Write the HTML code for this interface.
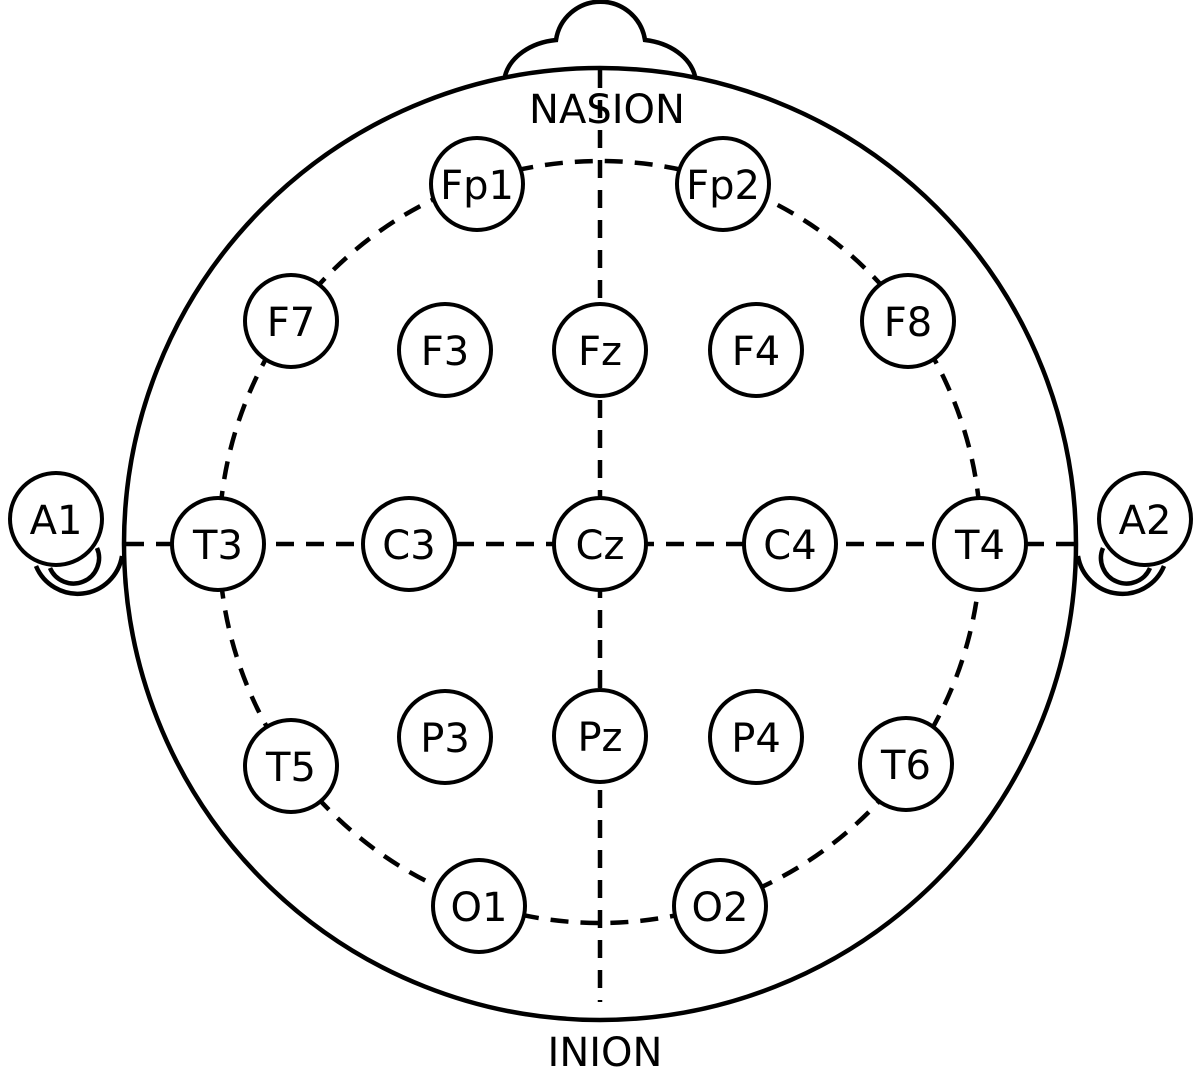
<!DOCTYPE html>
<html><head><style>html,body{margin:0;padding:0;background:#fff}</style></head><body>
<svg width="1200" height="1074" viewBox="0 0 1200 1074" xmlns="http://www.w3.org/2000/svg" font-family="DejaVu Sans, Liberation Sans, sans-serif">
<g fill="none" stroke="#000" stroke-width="4.5">
<path d="M505 76 A60 45 0 0 1 556 40 A45 45 0 0 1 645 40 A60 45 0 0 1 695 76"/>
<path d="M36 566 A45 45 0 0 0 122 556"/>
<path d="M50 568 A25 25 0 0 0 97 548"/>
<path d="M1164 566 A45 45 0 0 1 1078 556"/>
<path d="M1150 568 A25 25 0 0 1 1103 548"/>
<circle cx="600" cy="544" r="476" fill="#fff"/>
<g stroke-dasharray="18 12">
<circle cx="600" cy="542" r="381"/>
<line x1="600" y1="70" x2="600" y2="1002"/>
<line x1="126" y1="544" x2="1074" y2="544"/>
</g>
</g>
<g fill="#fff" stroke="#000" stroke-width="4">
<circle cx="477" cy="184" r="46"/><circle cx="723" cy="184" r="46"/>
<circle cx="291" cy="321" r="46"/><circle cx="445" cy="350" r="46"/><circle cx="600" cy="350" r="46"/><circle cx="756" cy="350" r="46"/><circle cx="908" cy="321" r="46"/>
<circle cx="218" cy="544" r="46"/><circle cx="409" cy="544" r="46"/><circle cx="600" cy="544" r="46"/><circle cx="790" cy="544" r="46"/><circle cx="980" cy="544" r="46"/>
<circle cx="291" cy="766" r="46"/><circle cx="445" cy="737" r="46"/><circle cx="600" cy="736" r="46"/><circle cx="756" cy="737" r="46"/><circle cx="906" cy="764" r="46"/>
<circle cx="479" cy="906" r="46"/><circle cx="720" cy="906" r="46"/>
<circle cx="56" cy="519" r="46"/><circle cx="1145" cy="519" r="46"/>
</g>
<g font-size="40" text-anchor="middle" fill="#000">
<text x="477" y="199">Fp1</text><text x="723" y="199">Fp2</text>
<text x="291" y="336">F7</text><text x="445" y="365">F3</text><text x="600" y="365">Fz</text><text x="756" y="365">F4</text><text x="908" y="336">F8</text>
<text x="218" y="559">T3</text><text x="409" y="559">C3</text><text x="600" y="559">Cz</text><text x="790" y="559">C4</text><text x="980" y="559">T4</text>
<text x="291" y="781">T5</text><text x="445" y="752">P3</text><text x="600" y="751">Pz</text><text x="756" y="752">P4</text><text x="906" y="779">T6</text>
<text x="479" y="921">O1</text><text x="720" y="921">O2</text>
<text x="56" y="534">A1</text><text x="1145" y="534">A2</text>
<text x="607" y="123" font-size="40">NASION</text>
<text x="605" y="1066" font-size="40">INION</text>
</g>
</svg>
</body></html>
